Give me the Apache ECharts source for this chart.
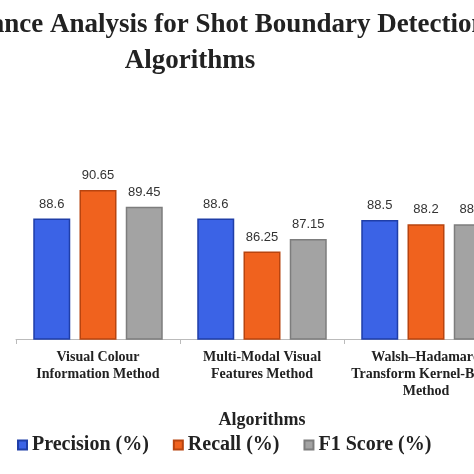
<!DOCTYPE html>
<html><head><meta charset="utf-8">
<script src="https://cdn.jsdelivr.net/npm/echarts@6/dist/echarts.min.js"></script>
<style>html,body{margin:0;padding:0;overflow:hidden;background:#fff;width:474px;height:474px}
#c{position:absolute;left:-160px;top:0;width:700px;height:474px}</style>
</head><body><div id="c"></div>
<script>
const categories = ['Visual Colour\nInformation Method', 'Multi-Modal Visual\nFeatures Method', 'Walsh–Hadamard\nTransform Kernel-Based\nMethod'];
const precision = [88.6, 88.6, 88.5];
const recall = [90.65, 86.25, 88.2];
const f1 = [89.45, 87.15, 88.2];
const serif = 'Liberation Serif';
const chart = echarts.init(document.getElementById('c'));
function s(name, data, color, border) {
  return { name, type: 'bar', data, barWidth: 37, barGap: '25%',
    itemStyle: { color, borderColor: border, borderWidth: 1.5 },
    label: { show: true, position: 'top', distance: 8, color: '#333', fontSize: 13, fontFamily: 'Liberation Sans' } };
}
chart.setOption({
  animation: false,
  title: { text: 'Performance Analysis for Shot Boundary Detection\nAlgorithms', left: 'center', top: 2,
    textStyle: { fontFamily: serif, fontWeight: 'bold', fontSize: 27, lineHeight: 36, color: '#222' } },
  legend: { bottom: 14, left: 172, itemWidth: 9, itemHeight: 9, itemGap: 24, icon: 'rect',
    textStyle: { fontFamily: serif, fontWeight: 'bold', fontSize: 20, color: '#222' } },
  grid: { left: 176, right: 32, top: 171, bottom: 135 },
  xAxis: { type: 'category', data: categories, name: 'Algorithms', nameLocation: 'middle', nameGap: 72,
    nameTextStyle: { fontFamily: serif, fontWeight: 'bold', fontSize: 18, color: '#222' },
    axisLine: { lineStyle: { color: '#bbb' } }, axisTick: { show: true, lineStyle: { color: '#bbb' }, length: 5 },
    axisLabel: { fontFamily: serif, fontWeight: 'bold', fontSize: 14, color: '#222', margin: 10, lineHeight: 17, interval: 0 } },
  yAxis: { type: 'value', min: 80, max: 92, show: false },
  series: [
    s('Precision (%)', precision, '#3b63e6', '#1f3ea8'),
    s('Recall (%)', recall, '#f0621e', '#b8440f'),
    s('F1 Score (%)', f1, '#a3a3a3', '#7d7d7d')
  ]
});
</script></body></html>
